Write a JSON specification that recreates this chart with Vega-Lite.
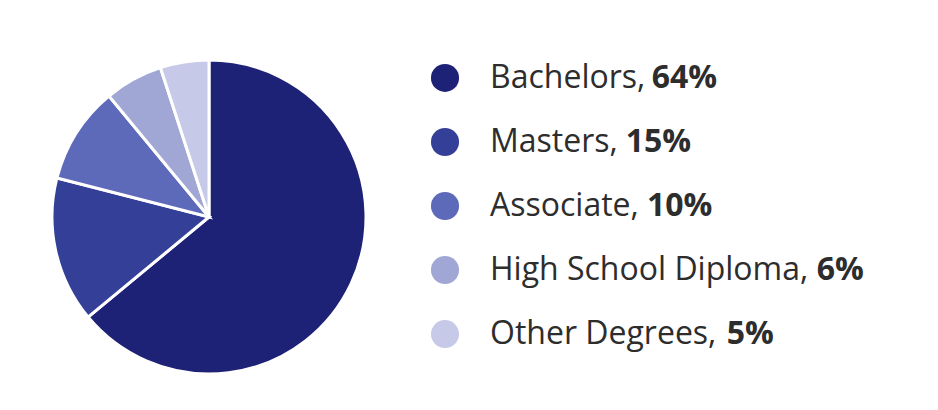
{
  "$schema": "https://vega.github.io/schema/vega-lite/v6.json",
  "padding": {"left": 17, "top": 44, "right": 5, "bottom": 5},
  "background": "white",
  "config": {"view": {"stroke": null}},
  "data": {
    "values": [
      {"degree": "Bachelors", "pct": 64, "rank": 1},
      {"degree": "Masters", "pct": 15, "rank": 2},
      {"degree": "Associate", "pct": 10, "rank": 3},
      {"degree": "High School Diploma", "pct": 6, "rank": 4},
      {"degree": "Other Degrees", "pct": 5, "rank": 5}
    ]
  },
  "spacing": 10,
  "hconcat": [
    {
      "width": 384,
      "height": 346,
      "mark": {"type": "arc", "outerRadius": 157, "stroke": "white", "strokeWidth": 3},
      "encoding": {
        "theta": {"field": "pct", "type": "quantitative", "stack": true},
        "order": {"field": "rank", "type": "quantitative"},
        "color": {
          "field": "degree",
          "type": "nominal",
          "scale": {
            "domain": ["Bachelors", "Masters", "Associate", "High School Diploma", "Other Degrees"],
            "range": ["#1e2277", "#343f98", "#5d69b9", "#a1a7d5", "#c6c9e7"]
          },
          "legend": null
        }
      }
    },
    {
      "width": 68,
      "height": 324,
      "mark": {"type": "circle", "size": 790, "opacity": 1},
      "encoding": {
        "y": {
          "field": "degree",
          "type": "nominal",
          "sort": {"field": "rank"},
          "scale": {"type": "point", "padding": 0.53},
          "axis": null
        },
        "color": {
          "field": "degree",
          "type": "nominal",
          "scale": {
            "domain": ["Bachelors", "Masters", "Associate", "High School Diploma", "Other Degrees"],
            "range": ["#1e2277", "#343f98", "#5d69b9", "#a1a7d5", "#c6c9e7"]
          },
          "legend": null
        }
      }
    },
    {
      "width": 2,
      "height": 324,
      "encoding": {
        "y": {
          "field": "degree",
          "type": "nominal",
          "sort": {"field": "rank"},
          "scale": {"type": "point", "padding": 0.53},
          "axis": null
        }
      },
      "layer": [
        {
          "transform": [{"calculate": "datum.degree + ','", "as": "name"}],
          "mark": {"type": "text", "align": "left", "baseline": "middle", "font": "Open Sans", "fontSize": 32, "color": "#2d2d2d"},
          "encoding": {"text": {"field": "name"}}
        },
        {
          "transform": [{"calculate": "datum.pct + '%'", "as": "share"}],
          "mark": {
            "type": "text",
            "align": "left",
            "baseline": "middle",
            "font": "Open Sans",
            "fontSize": 32,
            "fontWeight": "bold",
            "color": "#2d2d2d",
            "dx": {"expr": "32 * (0.58 * length(datum.degree + ', ') - 0.325 * length(replace(datum.degree + ', ', regexp('[^il ,]', 'g'), '')) - 0.15 * length(replace(datum.degree + ', ', regexp('[^trscfz]', 'g'), '')) + 0.34 * length(replace(datum.degree + ', ', regexp('[^mw]', 'g'), '')) + 0.27 * length(replace(datum.degree + ', ', regexp('[^MW]', 'g'), '')) + 0.1 * length(replace(datum.degree + ', ', regexp('[^A-HJ-LN-VX-Z]', 'g'), '')) + 0.07 * length(replace(datum.degree + ', ', regexp('[^DHNQU]', 'g'), '')))"}
          },
          "encoding": {"text": {"field": "share"}}
        }
      ]
    }
  ]
}
